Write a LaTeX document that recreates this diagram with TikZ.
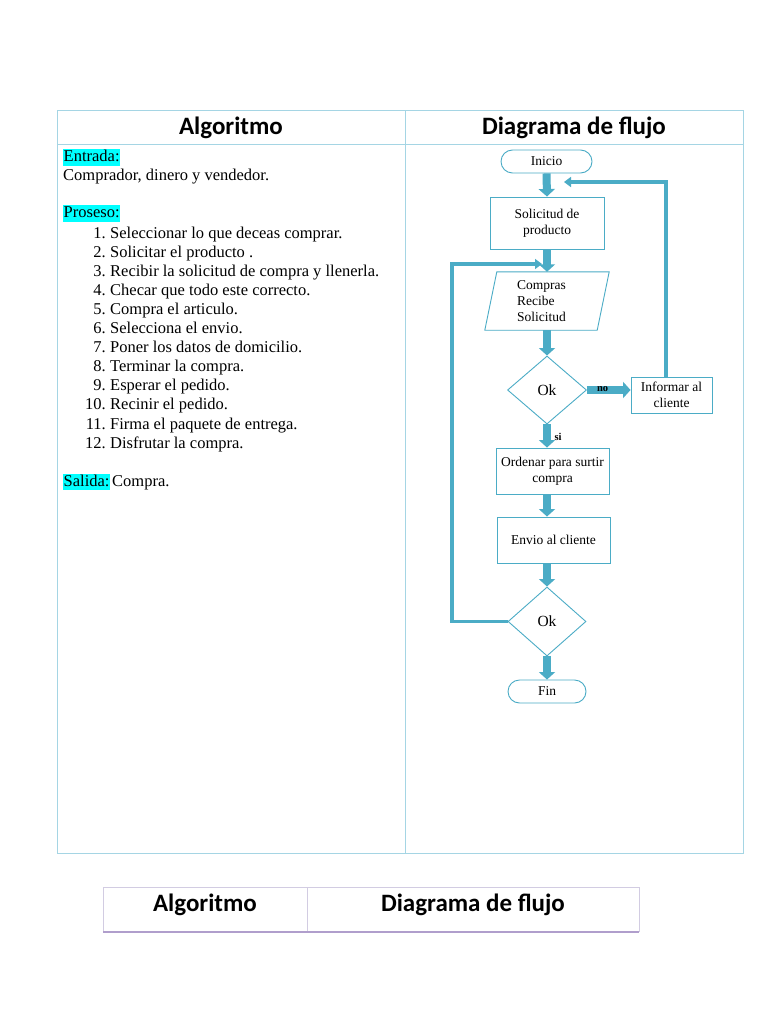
\documentclass[tikz,border=0pt]{standalone}
\usepackage{fontspec}
\setmainfont{Liberation Serif}
\newfontfamily\hdfont{Carlito}
\usetikzlibrary{arrows.meta,shapes.geometric}
\definecolor{fc}{RGB}{75,172,198}
\definecolor{tblc}{RGB}{165,213,228}
\definecolor{gridc}{RGB}{210,204,226}
\definecolor{purc}{RGB}{176,158,204}
\definecolor{hl}{RGB}{0,255,255}
\newcommand{\fcf}{\fontsize{13.5}{16}\selectfont}
\newcommand{\bodyf}{\fontsize{16.5}{19}\selectfont}
\newcommand{\hdf}{\hdfont\bfseries\fontsize{25}{30}\selectfont}
\begin{document}
\begin{tikzpicture}[x=1pt,y=-1pt,
  tline/.style={draw=tblc,line width=1pt},
  hdtext/.style={font=\hdf,inner sep=0pt},
  txt/.style={font=\bodyf,anchor=base west,inner sep=0pt},
  num/.style={font=\bodyf,anchor=base east,inner sep=0pt},
  hlt/.style={font=\bodyf,anchor=base west,inner sep=0.5pt,fill=hl,text height=12pt,text depth=3.5pt},
  box/.style={draw=fc,line width=0.9pt,fill=white,font=\fcf,align=center,inner sep=2pt},
  term/.style={box,rounded corners=11.5pt},
  dec/.style={diamond,draw=fc,line width=0.9pt,fill=white,font=\fontsize{15.5}{18}\selectfont,inner sep=0pt},
  flow/.style={draw=fc,line width=8pt,-{Triangle[width=16pt,length=7.5pt]}},
  back/.style={draw=fc,line width=3.5pt,-{Triangle[width=10pt,length=7pt]}},
  lbl/.style={font=\fontsize{10.5}{12}\selectfont\bfseries,inner sep=0pt}
]
\useasboundingbox (0,0) rectangle (768,1024);
\fill[white] (0,0) rectangle (768,1024);

% main table
\draw[tline] (57,111) rectangle (743,853);
\draw[tline] (57,145) -- (743,145);
\draw[tline] (405,111) -- (405,853);
\node[hdtext] (h1) at (231,128) {Algoritmo};
\node[hdtext] (h2) at (574,128) {Diagrama de flujo};

% algorithm text
\node[hlt] (entrada) at (63,162) {Entrada:};
\node[txt] (comp) at (63,181) {Comprador, dinero y vendedor.};
\node[hlt] (proseso) at (63,218) {Proseso:};
\foreach \i/\t in {1/Seleccionar lo que deceas comprar.,
  2/Solicitar el producto .,
  3/Recibir la solicitud de compra y llenerla.,
  4/Checar que todo este correcto.,
  5/Compra el articulo.,
  6/Selecciona el envio.,
  7/Poner los datos de domicilio.,
  8/Terminar la compra.,
  9/Esperar el pedido.,
  10/Recinir el pedido.,
  11/Firma el paquete de entrega.,
  12/Disfrutar la compra.}{
  \node[num] (n\i) at (106,{238+19.1*(\i-1)}) {\i.};
  \node[txt] (t\i) at (110,{238+19.1*(\i-1)}) {\t};
}
\node[hlt] (salida) at (63,486) {Salida:};
\node[txt] (sal) at (112,486) {Compra.};

% flowchart nodes
\node[term,minimum width=91pt,minimum height=23pt] (inicio) at (546.5,161.5) {Inicio};
\node[box,minimum width=114pt,minimum height=52pt] (sol) at (547,223) {Solicitud de\\producto};
\node[font=\fcf,align=left,text width=60pt,minimum width=112pt,minimum height=58pt,inner sep=0pt] (par) at (547,301) {Compras\\Recibe\\Solicitud};
\draw[draw=fc,line width=0.9pt] ([xshift=6pt]par.north west) -- ([xshift=6pt]par.north east) -- ([xshift=-6pt]par.south east) -- ([xshift=-6pt]par.south west) -- cycle;
\node[dec,aspect=1.16,minimum width=79pt,minimum height=68pt] (ok1) at (547,390) {Ok};
\node[box,minimum width=81pt,minimum height=36pt] (inf) at (671.5,395) {Informar al\\cliente};
\node[box,minimum width=113pt,minimum height=46pt] (ord) at (552.5,471) {Ordenar para surtir\\compra};
\node[box,minimum width=113pt,minimum height=46pt] (env) at (553.5,540) {Envio al cliente};
\node[dec,aspect=1.13,minimum width=78pt,minimum height=69pt] (ok2) at (547,621.5) {Ok};
\node[term,minimum width=78pt,minimum height=23pt] (fin) at (547,691.5) {Fin};

\coordinate (c1) at (666,182);
\coordinate (j1) at (564,182);
\coordinate (c2) at (452,264);
\coordinate (j2) at (542,264);

% connectors
\draw[flow] (inicio.south) -- (sol.north);
\draw[flow] (sol.south) -- (par.north);
\draw[flow] (par.south) -- (ok1.north);
\draw[flow] (ok1.south) -- node[lbl,pos=0.56,xshift=11pt]{si} (ord.north -| ok1.south);
\draw[flow] (ord.south -| ok1.south) -- (env.north -| ok1.south);
\draw[flow] (env.south -| ok1.south) -- (ok2.north);
\draw[flow] (ok2.south) -- (fin.north);
\draw[flow] (ok1.east) -- node[lbl,pos=0.36,yshift=1pt]{no} (inf.west |- ok1.east);
\draw[back] (inf.north -| c1) -- (c1) -- (j1);
\draw[back] (ok2.west) -| (c2) -- (j2);

% bottom table
\draw[draw=gridc,line width=1pt] (103,932) -- (103,887) -- (639,887) -- (639,932);
\draw[draw=gridc,line width=1pt] (307,887) -- (307,932);
\draw[draw=purc,line width=2pt] (103,932) -- (639,932);
\node[hdtext] (b1) at (205,905) {Algoritmo};
\node[hdtext] (b2) at (473,905) {Diagrama de flujo};
\end{tikzpicture}
\end{document}
